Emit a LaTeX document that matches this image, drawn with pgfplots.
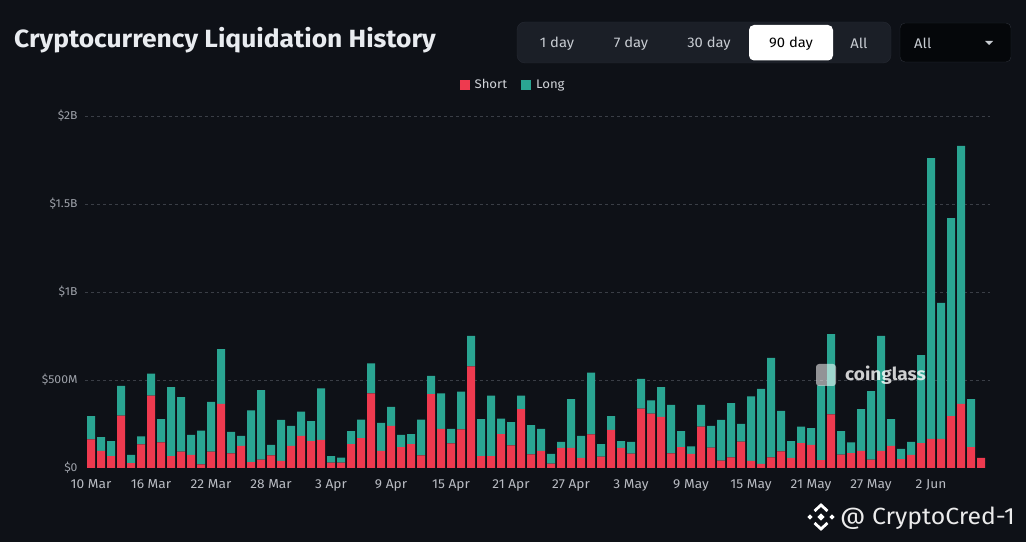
\documentclass[border=0pt]{standalone}
\usepackage{pgfplots}
\usepackage{pgfplotstable}
\usepackage{fontspec}
\setmainfont{Fira Sans}[FakeStretch=1.06]
\pgfplotsset{compat=1.18}
\definecolor{bgc}{HTML}{0E1117}
\definecolor{redc}{HTML}{EE3A4F}
\definecolor{tealc}{HTML}{2AA592}
\definecolor{gridc}{HTML}{3A3E46}
\definecolor{ylab}{HTML}{9EA2AA}
\definecolor{xlab}{HTML}{B8BBC2}
\definecolor{titlec}{HTML}{E9ECF0}
\definecolor{btnbg}{HTML}{1B1F27}
\definecolor{btnbd}{HTML}{262A33}
\definecolor{btntx}{HTML}{C8CCD2}
\definecolor{ddbg}{HTML}{05070A}
\definecolor{ddbd}{HTML}{2B2F37}
\definecolor{legc}{HTML}{D0D3D8}
\pgfplotstableread{
i short long
0 0.163 0.132
1 0.098 0.078
2 0.068 0.085
3 0.297 0.169
4 0.027 0.047
5 0.134 0.046
6 0.411 0.125
7 0.146 0.131
8 0.068 0.392
9 0.093 0.310
10 0.074 0.114
11 0.021 0.191
12 0.093 0.282
13 0.364 0.312
14 0.083 0.122
15 0.125 0.057
16 0.034 0.294
17 0.047 0.396
18 0.072 0.059
19 0.040 0.233
20 0.125 0.114
21 0.182 0.138
22 0.152 0.115
23 0.160 0.293
24 0.030 0.038
25 0.030 0.029
26 0.136 0.074
27 0.170 0.105
28 0.424 0.171
29 0.098 0.158
30 0.239 0.108
31 0.119 0.069
32 0.136 0.057
33 0.072 0.203
34 0.420 0.103
35 0.223 0.201
36 0.140 0.083
37 0.220 0.214
38 0.578 0.172
39 0.068 0.210
40 0.068 0.343
41 0.193 0.087
42 0.129 0.132
43 0.335 0.076
44 0.078 0.166
45 0.098 0.125
46 0.025 0.055
47 0.114 0.034
48 0.114 0.278
49 0.057 0.125
50 0.191 0.351
51 0.064 0.072
52 0.216 0.079
53 0.114 0.039
54 0.081 0.067
55 0.337 0.169
56 0.309 0.075
57 0.290 0.170
58 0.083 0.275
59 0.119 0.091
60 0.080 0.043
61 0.235 0.123
62 0.116 0.123
63 0.042 0.231
64 0.061 0.308
65 0.150 0.100
66 0.040 0.367
67 0.023 0.426
68 0.061 0.564
69 0.095 0.229
70 0.057 0.096
71 0.142 0.093
72 0.131 0.096
73 0.045 0.425
74 0.305 0.456
75 0.076 0.134
76 0.085 0.061
77 0.097 0.238
78 0.047 0.390
79 0.097 0.653
80 0.125 0.153
81 0.051 0.057
82 0.074 0.074
83 0.142 0.500
84 0.165 1.596
85 0.165 0.7725
86 0.295 1.125
87 0.364 1.466
88 0.119 0.273
89 0.057 0.000
}\data
\begin{document}
\begin{tikzpicture}
\useasboundingbox (0,0) rectangle (1026bp,542bp);
\fill[bgc] (0,0) rectangle (1026bp,542bp);
\begin{axis}[
  at={(85bp,74bp)}, anchor=south west,
  scale only axis, width=905bp, height=352bp,
  xmin=-0.6, xmax=89.9, ymin=0, ymax=2,
  ybar stacked, bar width=8bp,
  axis line style={draw=none},
  major tick length=0pt,
  ytick={0.5,1,1.5,2},
  yticklabels={\$500M,\$1B,\$1.5B,\$2B},
  extra y ticks={0}, extra y tick labels={\$0},
  extra y tick style={grid=none},
  xtick={0,6,...,84},
  xticklabels={10 Mar,16 Mar,22 Mar,28 Mar,3 Apr,9 Apr,15 Apr,21 Apr,27 Apr,3 May,9 May,15 May,21 May,27 May,2 Jun},
  ymajorgrids, grid style={dashed, gridc, line width=0.6bp},
  yticklabel style={font=\fontsize{11.5}{13}\selectfont, text=ylab, anchor=east, xshift=-4bp},
  xticklabel style={font=\fontsize{13}{15}\selectfont, text=xlab, anchor=base, yshift=-21bp},
  legend columns=2,
  legend style={at={(0.473,1.088)}, anchor=center, draw=none, fill=none, text=legc,
    font=\fontsize{12.5}{14}\selectfont,
    /tikz/every odd column/.append style={column sep=3bp},
    /tikz/every even column/.append style={column sep=12bp}},
  legend image code/.code={\fill[#1] (0bp,-5bp) rectangle (10bp,5bp);},
]
\addplot[fill=redc, draw=none] table[x=i, y=short] {\data};
\addlegendentry{Short}
\addplot[fill=tealc, draw=none] table[x=i, y=long] {\data};
\addlegendentry{Long}
\end{axis}
% title
\node[anchor=base west, inner sep=0, text=titlec, font=\fontsize{25}{28}\selectfont\bfseries] at (14bp,494.7bp) {Cryptocurrency Liquidation History};
% button group
\filldraw[fill=btnbg, draw=btnbd, rounded corners=8bp] (517bp,479bp) rectangle (891bp,520bp);
\fill[white, rounded corners=5bp] (749bp,481.5bp) rectangle (833bp,517bp);
\begin{scope}[every node/.style={font=\fontsize{14}{16}\selectfont, inner sep=0, anchor=center}]
\node[text=btntx] at (557bp,498.5bp) {1 day};
\node[text=btntx] at (631bp,498.5bp) {7 day};
\node[text=btntx] at (709bp,498.5bp) {30 day};
\node[text=black] at (791bp,498.5bp) {90 day};
\node[text=btntx] at (859bp,498.5bp) {All};
\end{scope}
\filldraw[fill=ddbg, draw=ddbd, rounded corners=5bp] (900bp,480bp) rectangle (1011bp,519bp);
\node[anchor=west, inner sep=0, text=btntx, font=\fontsize{14}{16}\selectfont] at (914bp,498.5bp) {All};
\fill[btntx] (985bp,501bp) -- (993bp,501bp) -- (989bp,497bp) -- cycle;
% watermark
\fill[white, opacity=0.55, rounded corners=3bp] (816bp,156bp) rectangle (836bp,178bp);
\node[text=white, opacity=0.8, font=\fontsize{18}{20}\selectfont\bfseries, inner sep=0, anchor=west] at (845bp,167bp) {coinglass};
% signature
\begin{scope}[white]
\fill[rotate around={45:(821bp,25bp)}] (818.5bp,22.5bp) rectangle (823.5bp,27.5bp);
\fill[rotate around={45:(810bp,25bp)}] (808.2bp,23.2bp) rectangle (811.8bp,26.8bp);
\fill[rotate around={45:(832bp,25bp)}] (830.2bp,23.2bp) rectangle (833.8bp,26.8bp);
\draw[line width=2.8bp] (814.5bp,31bp) -- (821bp,37bp) -- (827.5bp,31bp);
\draw[line width=2.8bp] (814.5bp,19bp) -- (821bp,13bp) -- (827.5bp,19bp);
\end{scope}
\node[anchor=west, inner sep=0, text=white!92!black, font=\fontsize{23.5}{26}\selectfont] at (840bp,24bp) {@ CryptoCred-1};
\end{tikzpicture}
\end{document}
